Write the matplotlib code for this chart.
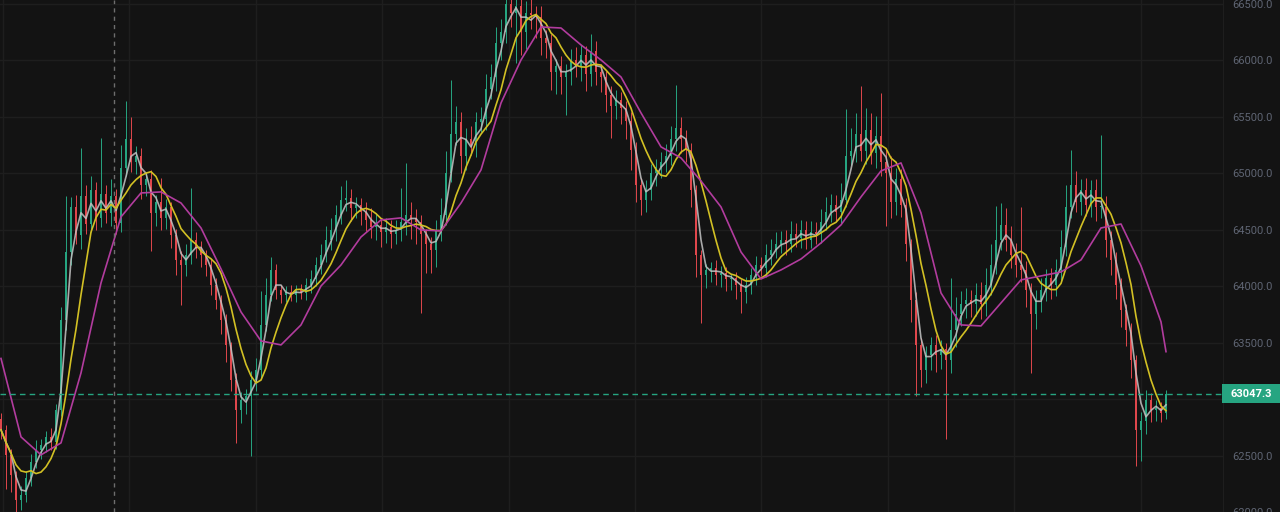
import numpy as np
import pandas as pd
import matplotlib
matplotlib.use("Agg")
import matplotlib.pyplot as plt
from matplotlib.patches import Rectangle
from matplotlib.transforms import blended_transform_factory

# Colours
BG = "#131313"
GRID = "#1e1e1e"
GREEN = "#26a581"
RED = "#e0474c"
LABEL = "#5f6573"

# Candle data (1 list entry per candle)
first_open = 62820
closes = [
    62727, 62505, 62330, 62107, 62150, 62300, 62440, 62550, 62595, 62660,
    62620, 62900, 63700, 64300, 64700, 64450, 64800, 64550, 64850, 64600,
    64820, 64650, 64800, 64560, 65050, 65300, 65100, 65150, 64900, 64950,
    64650, 64750, 64600, 64700, 64450, 64230, 64190, 64280, 64410, 64340,
    64280, 64190, 64010, 63880, 63700, 63480, 63170, 62900, 62990, 63030,
    63170, 63260, 63660, 63920, 64140, 63970, 63920, 63950, 63920, 63970,
    63940, 64010, 64060, 64190, 64280, 64410, 64500, 64630, 64760, 64780,
    64690, 64720, 64660, 64590, 64520, 64540, 64480, 64520, 64460, 64500,
    64570, 64630, 64600, 64570, 64460, 64370, 64320, 64500, 64630, 65000,
    65350, 65450, 65150, 65300, 65250, 65450, 65480, 65750, 65850, 66150,
    66250, 66500, 66420, 66480, 66250, 66420, 66400, 66380, 66200, 66150,
    65900, 65950, 65850, 65900, 66000, 65950, 66050, 65880, 66080, 65900,
    65850, 65690, 65600, 65650, 65580, 65460, 65210, 64900, 64760, 64850,
    65000, 65060, 65100, 65150, 65300, 65400, 65300, 65210, 64850, 64280,
    64100, 64140, 64160, 64100, 64120, 64060, 64070, 64010, 63950, 64010,
    64100, 64190, 64160, 64280, 64320, 64370, 64410, 64370, 64460, 64430,
    64500, 64410, 64480, 64460, 64570, 64660, 64720, 64660, 64760, 65150,
    65200, 65350, 65200, 65380, 65180, 65330, 65100, 65000, 64750, 64950,
    64720, 64370, 63880, 63480, 63260, 63390, 63480, 63390, 63440, 63350,
    63610, 63750, 63840, 63880, 63840, 63920, 63840, 64010, 64190, 64410,
    64540, 64410, 64280, 64190, 64140, 63970, 63750, 63880, 63970, 64070,
    64010, 64140, 64350, 64700, 64900, 64750, 64850, 64720, 64850, 64700,
    64700, 64410, 64230, 64010, 63790, 63610, 63350, 62730, 62810, 62990,
    62900, 62920, 62880, 63047.3,
]
up_wick = [
    60, 40, 50, 30, 80, 60, 70, 90, 50, 60,
    80, 60, 120, 500, 90, 110, 420, 100, 130, 70,
    490, 80, 150, 60, 200, 340, 200, 90, 70, 60,
    80, 60, 210, 70, 50, 60, 80, 90, 460, 70,
    60, 40, 50, 60, 40, 50, 30, 60, 70, 60,
    80, 100, 300, 150, 120, 60, 40, 50, 60, 40,
    50, 60, 80, 70, 90, 120, 100, 90, 130, 160,
    80, 70, 60, 90, 100, 110, 60, 80, 70, 90,
    300, 460, 120, 80, 60, 50, 70, 90, 150, 200,
    480, 150, 90, 100, 120, 90, 110, 130, 120, 150,
    120, 200, 150, 100, 90, 110, 120, 80, 100, 70,
    80, 60, 90, 70, 100, 120, 90, 80, 150, 90,
    70, 60, 80, 90, 70, 60, 80, 70, 60, 90,
    80, 70, 90, 110, 120, 380, 100, 80, 60, 50,
    40, 60, 50, 70, 60, 50, 40, 60, 50, 70,
    60, 80, 70, 90, 100, 110, 80, 90, 120, 100,
    90, 80, 100, 90, 110, 130, 100, 90, 150, 420,
    200, 180, 420, 200, 150, 180, 385, 120, 150, 100,
    90, 60, 50, 70, 60, 80, 70, 90, 80, 60,
    465, 150, 120, 100, 90, 110, 120, 150, 180, 300,
    200, 150, 120, 100, 510, 80, 60, 90, 100, 80,
    90, 100, 150, 200, 310, 120, 100, 110, 90, 100,
    640, 100, 80, 70, 60, 50, 60, 40, 80, 90,
    60, 70, 50, 30,
]
low_wick = [
    80, 300, 150, 120, 90, 60, 70, 50, 80, 60,
    70, 60, 50, 90, 110, 80, 120, 90, 70, 100,
    80, 90, 120, 100, 80, 70, 90, 110, 130, 100,
    340, 120, 100, 90, 110, 130, 360, 100, 80, 90,
    110, 100, 90, 80, 120, 150, 100, 290, 110, 120,
    530, 100, 80, 60, 50, 80, 70, 60, 50, 60,
    50, 60, 70, 60, 80, 70, 90, 100, 80, 90,
    110, 90, 120, 100, 90, 110, 130, 100, 120, 90,
    100, 120, 180, 200, 700, 250, 200, 150, 100, 90,
    80, 100, 150, 120, 90, 110, 80, 100, 90, 120,
    150, 100, 120, 440, 200, 150, 120, 180, 150, 130,
    160, 200, 150, 330, 120, 100, 130, 150, 110, 120,
    130, 150, 290, 120, 140, 160, 180, 150, 130, 100,
    90, 110, 100, 90, 80, 100, 120, 110, 150, 200,
    430, 120, 100, 90, 110, 100, 90, 120, 190, 100,
    80, 90, 70, 80, 90, 70, 80, 90, 70, 80,
    90, 80, 70, 90, 80, 70, 90, 80, 100, 60,
    80, 100, 90, 120, 100, 130, 120, 470, 150, 120,
    110, 150, 200, 450, 150, 120, 130, 150, 120, 700,
    120, 150, 100, 120, 110, 100, 130, 100, 90, 80,
    90, 100, 120, 110, 100, 150, 520, 130, 110, 100,
    120, 100, 90, 80, 100, 90, 120, 100, 110, 120,
    100, 150, 130, 120, 150, 140, 160, 320, 280, 120,
    100, 90, 80, 60,
]
# slow moving average, read every 4th candle
slow_ma = [
    63360, 62665, 62506, 62612, 63232, 64029, 64614, 64826, 64835, 64737,
    64516, 64153, 63772, 63515, 63480, 63657, 64002, 64188, 64436, 64587,
    64605, 64498, 64490, 64737, 65030, 65623, 66004, 66296, 66287, 66137,
    66004, 65853, 65535, 65234, 65136, 64932, 64702, 64303, 64064, 64144,
    64241, 64383, 64543, 64791, 65021, 65092, 64649, 63940, 63657, 63648,
    63852, 64056, 64091, 64126, 64233, 64516, 64551, 64180, 63684, 63420,
]
last_price = 63047.3
crosshair_candle = 22.6
price_ticks = [62000, 62500, 63000, 63500, 64000, 64500, 65000, 65500, 66000, 66500]


def draw_chart():
    plt.rcParams["font.family"] = ["Roboto", "DejaVu Sans"]
    fig = plt.figure(figsize=(12.8, 5.12), dpi=100, facecolor=BG)
    ax = fig.add_axes([0, 0, 1223 / 1280, 1], facecolor=BG)

    c = np.array(closes, dtype=float)
    o = np.concatenate([[first_open], c[:-1]])
    hi = np.maximum(o, c) + np.array(up_wick)
    lo = np.minimum(o, c) - np.array(low_wick)
    x = np.arange(len(c))
    colors = np.where(c >= o, GREEN, RED)

    # grid
    for t in price_ticks:
        ax.axhline(t, color=GRID, lw=1, zorder=0)
    for gx in np.arange(0.4, 245, 25.28):
        ax.axvline(gx, color=GRID, lw=1, zorder=0)

    # candles
    ax.vlines(x, lo, hi, colors=colors, lw=0.7, zorder=2)
    body = np.maximum(np.abs(c - o), 10)
    ax.bar(x, body, bottom=np.minimum(o, c), width=0.55, color=colors, lw=0, zorder=3)

    # moving averages
    s = pd.Series(c)
    ax.plot(x, s.rolling(3, min_periods=1).mean(), color="#c4c4c4", lw=1.2, alpha=0.85, zorder=4)
    ax.plot(x, s.rolling(7, min_periods=1).mean(), color="#d2c024", lw=1.2, zorder=5)
    slow_x = np.append(np.arange(0, len(c), 4), len(c) - 1)
    ax.plot(slow_x, slow_ma, color="#b23c9e", lw=1.2, zorder=5)

    # last price line + crosshair
    ax.axhline(last_price, color=GREEN, lw=1, dashes=(4, 3), zorder=6)
    ax.axvline(crosshair_candle, color="#6e6e6e", lw=1, dashes=(3, 3), zorder=6)

    ax.set_xlim(-0.2, 244.4)
    ax.set_ylim(62000, 66535)
    ax.set_xticks([])
    ax.yaxis.tick_right()
    ax.set_yticks(price_ticks)
    # the label hidden behind the price tag is left out
    ax.set_yticklabels(["" if abs(t - last_price) < 150 else f"{t:.1f}" for t in price_ticks])
    ax.tick_params(axis="y", length=0, pad=6.5, labelsize=8, labelcolor=LABEL)
    for side in ["top", "left", "bottom"]:
        ax.spines[side].set_visible(False)
    ax.spines["right"].set_color(GRID)

    # last price tag
    tr = blended_transform_factory(fig.transFigure, ax.transData)
    tag_h = 19 * (66535 - 62000) / 512
    fig.patches.append(Rectangle((1222 / 1280, last_price - tag_h / 2), 58 / 1280, tag_h,
                                 transform=tr, facecolor=GREEN, edgecolor="none", zorder=10))
    fig.text(1251 / 1280, last_price, f"{last_price:.1f}", transform=tr, ha="center", va="center",
             color="white", fontsize=8, fontweight="bold", zorder=11)

    fig.savefig("out.png", dpi=100, facecolor=BG)


if __name__ == "__main__":
    draw_chart()
